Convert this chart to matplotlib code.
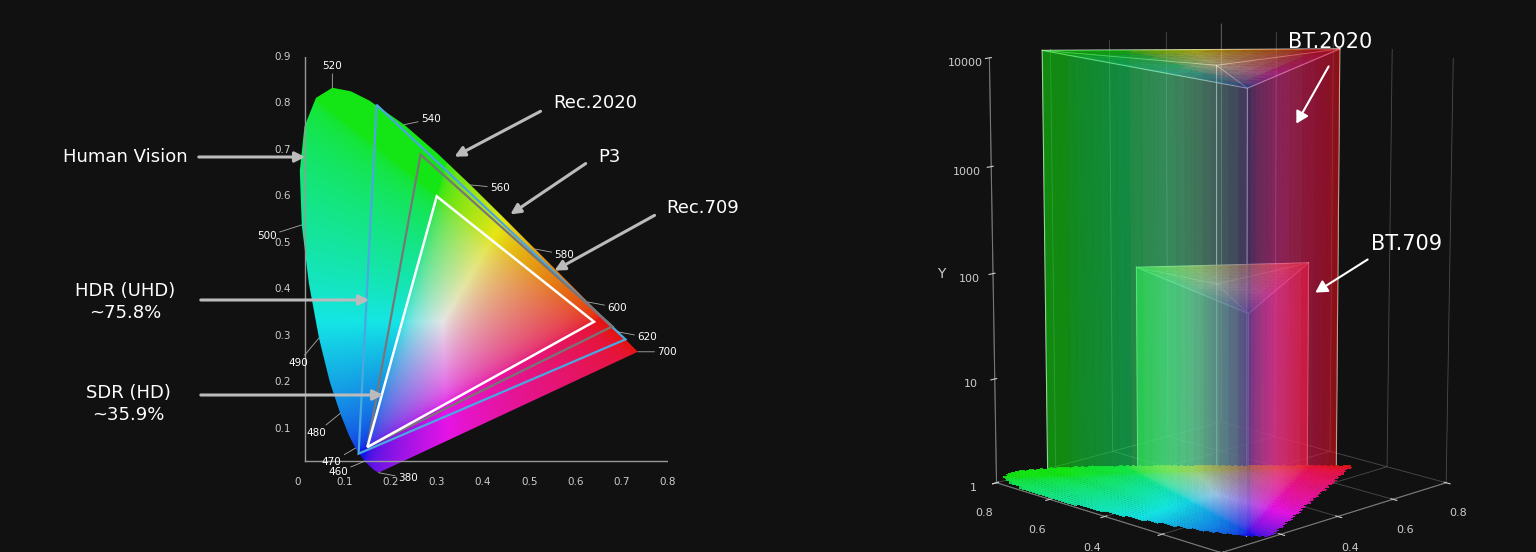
import numpy as np
import matplotlib
matplotlib.use("Agg")
import matplotlib.pyplot as plt
from matplotlib.path import Path
from matplotlib.patches import PathPatch, Polygon
from mpl_toolkits.mplot3d.art3d import Poly3DCollection

# ---- data ----
wl = [380, 440, 450, 460, 470, 475, 480, 485, 490, 495, 500, 505, 510, 515, 520, 525, 530, 540, 550, 560,
      570, 580, 590, 600, 610, 620, 640, 700]
loc_x = [0.1741, 0.1644, 0.1566, 0.1440, 0.1241, 0.1096, 0.0913, 0.0687, 0.0454, 0.0235, 0.0082, 0.0039,
         0.0139, 0.0389, 0.0743, 0.1142, 0.1547, 0.2296, 0.3016, 0.3731, 0.4441, 0.5125, 0.5752, 0.6270,
         0.6658, 0.6915, 0.7190, 0.7347]
loc_y = [0.0050, 0.0109, 0.0177, 0.0297, 0.0578, 0.0868, 0.1327, 0.2007, 0.2950, 0.4127, 0.5384, 0.6548,
         0.7502, 0.8120, 0.8338, 0.8262, 0.8059, 0.7543, 0.6923, 0.6245, 0.5547, 0.4866, 0.4242, 0.3725,
         0.3340, 0.3083, 0.2809, 0.2653]
rec2020 = [(0.708, 0.292), (0.170, 0.797), (0.131, 0.046)]
p3 = [(0.680, 0.320), (0.265, 0.690), (0.150, 0.060)]
rec709 = [(0.640, 0.330), (0.300, 0.600), (0.150, 0.060)]
xticks = [0, 0.1, 0.2, 0.3, 0.4, 0.5, 0.6, 0.7, 0.8]
yticks = [0.1, 0.2, 0.3, 0.4, 0.5, 0.6, 0.7, 0.8, 0.9]
lum_ticks = [1, 10, 100, 1000, 10000]
h2020, h709 = 10000, 100

BG = "#111111"
W, H = 1536, 552
fig = plt.figure(figsize=(15.36, 5.52), dpi=100, facecolor=BG)

def px(x, y):
    return x / W, 1 - y / H

M = np.array([[3.2406, -1.5372, -0.4986], [-0.9689, 1.8758, 0.0415], [0.0557, -0.2040, 1.0570]])
def xy2rgb(x, y, soft=True):
    x = np.asarray(x, float); y = np.maximum(np.asarray(y, float), 1e-3)
    XYZ = np.stack([x / y, np.ones_like(x), (1 - x - y) / y], -1)
    rgb = XYZ @ M.T
    rgb = np.clip(rgb, 0, None)
    rgb = rgb / np.maximum(rgb.max(-1, keepdims=True), 1e-6)
    rgb = np.clip(rgb, 0, 1) ** (1 / 2.2)
    if soft:
        rgb = rgb * 0.82 + 0.08
    return rgb

# ---------- left: CIE diagram ----------
ax = fig.add_axes([298 / W, (H - 475) / H, 370 / W, 418 / H])
ax.set_facecolor(BG)
ax.set_xlim(0, 0.8); ax.set_ylim(0, 0.9)
ax.axis("off")
locus = np.column_stack([loc_x + [loc_x[0]], loc_y + [loc_y[0]]])
gx, gy = np.meshgrid(np.linspace(0, 0.8, 400), np.linspace(0, 0.9, 450))
img = xy2rgb(gx, gy)
im = ax.imshow(img, extent=[0, 0.8, 0, 0.9], origin="lower", aspect="auto", interpolation="bilinear")
patch = PathPatch(Path(locus), transform=ax.transData, facecolor="none", edgecolor="none")
ax.add_patch(patch)
im.set_clip_path(patch)
for tri, c, lw in [(rec2020, "#4aa8e0", 1.6), (p3, "#777777", 1.6), (rec709, "white", 1.8)]:
    ax.add_patch(Polygon(tri, closed=True, fill=False, edgecolor=c, lw=lw))
ax.plot([0.015, 0.015], [0.03, 0.9], color="#999999", lw=1)
ax.plot([0.015, 0.8], [0.03, 0.03], color="#999999", lw=1)
for t in xticks:
    ax.text(t, -0.005, f"{t:g}", color="#cccccc", fontsize=7.5, ha="center", va="top")
for t in yticks:
    ax.text(-0.015, t, f"{t:g}", color="#cccccc", fontsize=7.5, ha="right", va="center")
wl_lbl = {520: (0, 12, "center", "bottom"), 540: (12, 4, "left", "center"), 560: (14, -2, "left", "center"),
          580: (14, -4, "left", "center"), 600: (14, -4, "left", "center"), 620: (14, -4, "left", "center"),
          700: (14, 0, "left", "center"), 500: (-18, -8, "right", "center"), 490: (-8, -18, "right", "center"),
          480: (-10, -14, "right", "center"), 470: (-10, -10, "right", "center"), 460: (-12, -8, "right", "center"),
          380: (14, -4, "left", "center")}
for w, (dx, dy, ha, va) in wl_lbl.items():
    i = wl.index(w)
    ax.annotate(str(w), (loc_x[i], loc_y[i]), xytext=(dx, dy), textcoords="offset points",
                color="white", fontsize=7.5, ha=ha, va=va,
                arrowprops=dict(arrowstyle="-", color="#aaaaaa", lw=0.6, shrinkA=0, shrinkB=0))

def arrow(x0, y0, x1, y1):
    fig.add_artist(matplotlib.patches.FancyArrowPatch(px(x0, y0), px(x1, y1), transform=fig.transFigure,
                   arrowstyle="-|>,head_length=6,head_width=3", color="#bbbbbb", lw=2.2))

fs = 13
fig.text(*px(125, 157), "Human Vision", color="white", fontsize=fs, ha="center", va="center")
arrow(196, 157, 308, 157)
fig.text(*px(553, 103), "Rec.2020", color="white", fontsize=fs, ha="left", va="center")
arrow(543, 110, 452, 158)
fig.text(*px(598, 157), "P3", color="white", fontsize=fs, ha="left", va="center")
arrow(588, 162, 508, 216)
fig.text(*px(666, 208), "Rec.709", color="white", fontsize=fs, ha="left", va="center")
arrow(657, 214, 552, 272)
fig.text(*px(125, 302), "HDR (UHD)\n~75.8%", color="white", fontsize=fs, ha="center", va="center", linespacing=1.3)
arrow(198, 300, 372, 300)
fig.text(*px(128, 404), "SDR (HD)\n~35.9%", color="white", fontsize=fs, ha="center", va="center", linespacing=1.3)
arrow(198, 395, 386, 395)

# ---------- right: 3D gamut volumes ----------
a3 = fig.add_axes([0.60, -0.06, 0.38, 1.10], projection="3d")
a3.set_facecolor(BG)
a3.patch.set_alpha(0)
a3.view_init(elev=13, azim=-135)
a3.set_box_aspect((1, 1, 1.35), zoom=1.05)
for axis in (a3.xaxis, a3.yaxis, a3.zaxis):
    axis.set_pane_color((0, 0, 0, 0))
    axis._axinfo["grid"]["color"] = (0.45, 0.45, 0.45, 0.6)
    axis._axinfo["grid"]["linewidth"] = 0.6
    axis.line.set_color("#777777")
a3.zaxis._axinfo["grid"]["linewidth"] = 0
a3.set_xlim(0, 0.8); a3.set_ylim(0, 0.8); a3.set_zlim(0, 4)
a3.set_xticks([0, 0.2, 0.4, 0.6, 0.8]); a3.set_yticks([0, 0.2, 0.4, 0.6, 0.8])
a3.set_xticklabels(["0", "0.2", "0.4", "0.6", "0.8"])
a3.set_yticklabels(["0", "0.2", "0.4", "0.6", "0.8"])
a3.set_zticks(np.log10(lum_ticks)); a3.set_zticklabels([str(v) for v in lum_ticks])
a3.tick_params(colors="#cccccc", labelsize=8)
a3.set_xlabel("x", color="#cccccc"); a3.set_ylabel("y", color="#cccccc"); a3.set_zlabel("Y", color="#cccccc")

fx, fy = np.meshgrid(np.linspace(0, 0.75, 70), np.linspace(0, 0.85, 70))
inside = Path(locus).contains_points(np.column_stack([fx.ravel(), fy.ravel()])).reshape(fx.shape)
fc = np.concatenate([xy2rgb(fx, fy), inside[..., None].astype(float) * 0.9], -1)
a3.plot_surface(fx, fy, np.zeros_like(fx), facecolors=fc, shade=False, linewidth=0,
                antialiased=False, rstride=1, cstride=1)

def prism(tri, h, alpha):
    zt = np.log10(h)
    polys, cols = [], []
    n = 24
    for k in range(3):
        p0, p1 = np.array(tri[k]), np.array(tri[(k + 1) % 3])
        for s in range(n):
            a, b = p0 + (p1 - p0) * s / n, p0 + (p1 - p0) * (s + 1) / n
            polys.append([(a[0], a[1], 0), (b[0], b[1], 0), (b[0], b[1], zt), (a[0], a[1], zt)])
            m = (a + b) / 2
            cols.append(list(xy2rgb(m[0], m[1])) + [alpha])
    A, B, C = [np.array(p) for p in tri]
    m = 16
    for i in range(m):
        for j in range(m - i):
            quads = [[(i, j), (i + 1, j), (i, j + 1)]]
            if j < m - i - 1:
                quads.append([(i + 1, j), (i + 1, j + 1), (i, j + 1)])
            for q in quads:
                vs = [A + (B - A) * u / m + (C - A) * v / m for u, v in q]
                polys.append([(v[0], v[1], zt) for v in vs])
                c = np.mean(vs, 0)
                cols.append(list(xy2rgb(c[0], c[1])) + [min(alpha + 0.15, 1)])
    a3.add_collection3d(Poly3DCollection(polys, facecolors=cols, edgecolors="none"))
    T = np.array(tri + [tri[0]])
    a3.plot(T[:, 0], T[:, 1], zt, color="white", lw=0.8, alpha=0.8)
    wp = (0.3127, 0.329)
    for (x, y) in tri:
        a3.plot([x, x], [y, y], [0, zt], color="white", lw=0.8, alpha=0.8)
        a3.plot([wp[0], x], [wp[1], y], [zt, zt], color="white", lw=0.6, alpha=0.7)
    a3.plot([wp[0], wp[0]], [wp[1], wp[1]], [0, zt], color="white", lw=0.8, alpha=0.8)

prism(rec2020, h2020, 0.35)
prism(rec709, h709, 0.45)

fig.text(*px(1330, 42), "BT.2020", color="white", fontsize=15, ha="center", va="center")
fig.add_artist(matplotlib.patches.FancyArrowPatch(px(1330, 64), px(1295, 126), transform=fig.transFigure,
               arrowstyle="-|>,head_length=7,head_width=4", color="white", lw=1.5))
fig.text(*px(1407, 244), "BT.709", color="white", fontsize=15, ha="center", va="center")
fig.add_artist(matplotlib.patches.FancyArrowPatch(px(1370, 258), px(1313, 294), transform=fig.transFigure,
               arrowstyle="-|>,head_length=7,head_width=4", color="white", lw=1.5))

fig.savefig("out.png", dpi=100, facecolor=BG)
